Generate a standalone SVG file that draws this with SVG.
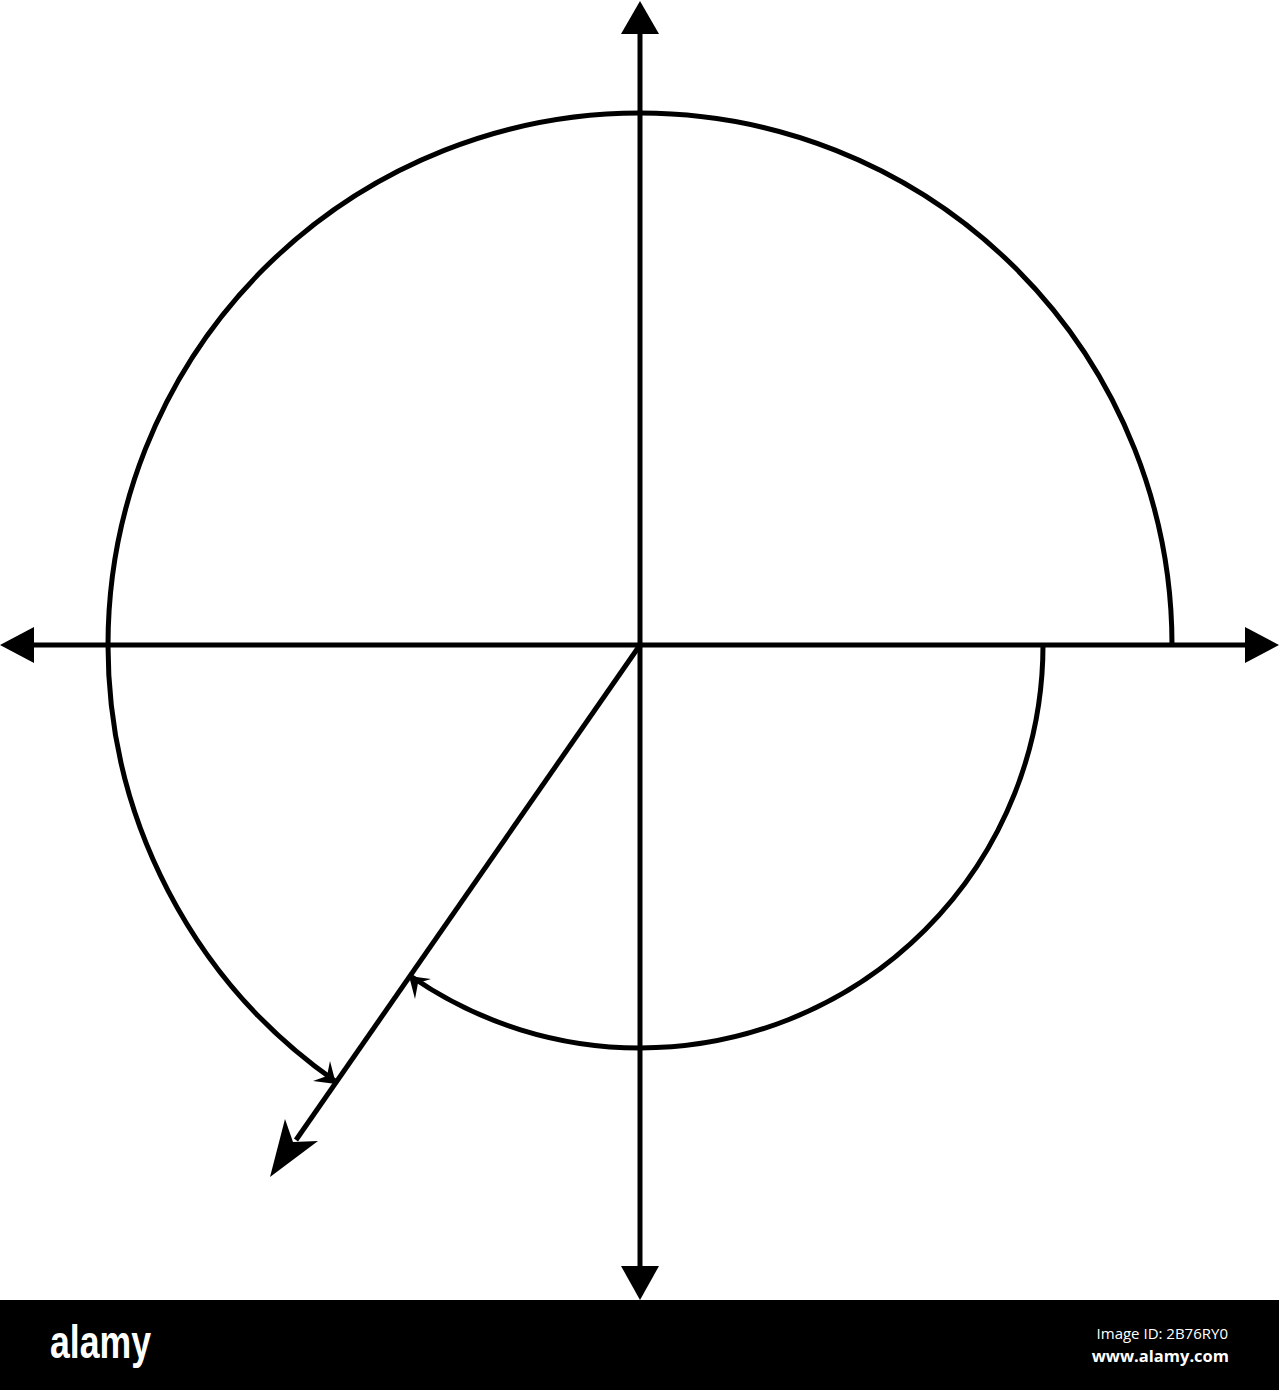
<svg xmlns="http://www.w3.org/2000/svg" width="1279" height="1390" viewBox="0 0 1279 1390">
<style>
.ln{fill:none;stroke:#000;stroke-width:5}
.ah{fill:#000;stroke:none}
.ft{fill:#fff;font-family:"Open Sans","Noto Sans",sans-serif}
</style>
<rect width="1279" height="1390" fill="#fff"/>
<g id="connectors">
<line class="ln" x1="640" y1="30" x2="640" y2="1270"/>
<line class="ln" x1="30" y1="645" x2="1249" y2="645"/>
<polygon class="ah" points="640,1 659,34 621,34"/>
<polygon class="ah" points="640,1300 659,1266 621,1266"/>
<polygon class="ah" points="0,645 34,627 34,663"/>
<polygon class="ah" points="1279,645 1245,627 1245,663"/>
<path class="ln" d="M1172,645 A532,532 0 0 0 640,113 A532,532 0 0 0 108,645 A532,532 0 0 0 335,1081"/>
<polygon class="ah" points="336,1084 330,1061 327,1076 313,1081"/>
<path class="ln" d="M1043,645 A403,403 0 0 1 640,1048 A403,403 0 0 1 412,977"/>
<polygon class="ah" points="409,976 431,979 418,983 415,999"/>
<line class="ln" x1="640" y1="645" x2="296" y2="1140"/>
<polygon class="ah" points="270,1177 285,1119 293,1142 318,1141"/>
</g>
<g id="footer">
<rect x="0" y="1300" width="1279" height="90" fill="#000"/>
<text x="50" y="1358" fill="#fff" font-family="'Liberation Sans',Arial,sans-serif" font-weight="bold" font-size="46" textLength="101" lengthAdjust="spacingAndGlyphs">alamy</text>
<text class="ft" x="1228" y="1339" font-size="15" text-anchor="end">Image ID: 2B76RY0</text>
<text class="ft" x="1229" y="1362" font-size="16.5" font-weight="bold" text-anchor="end">www.alamy.com</text>
</g>
</svg>
